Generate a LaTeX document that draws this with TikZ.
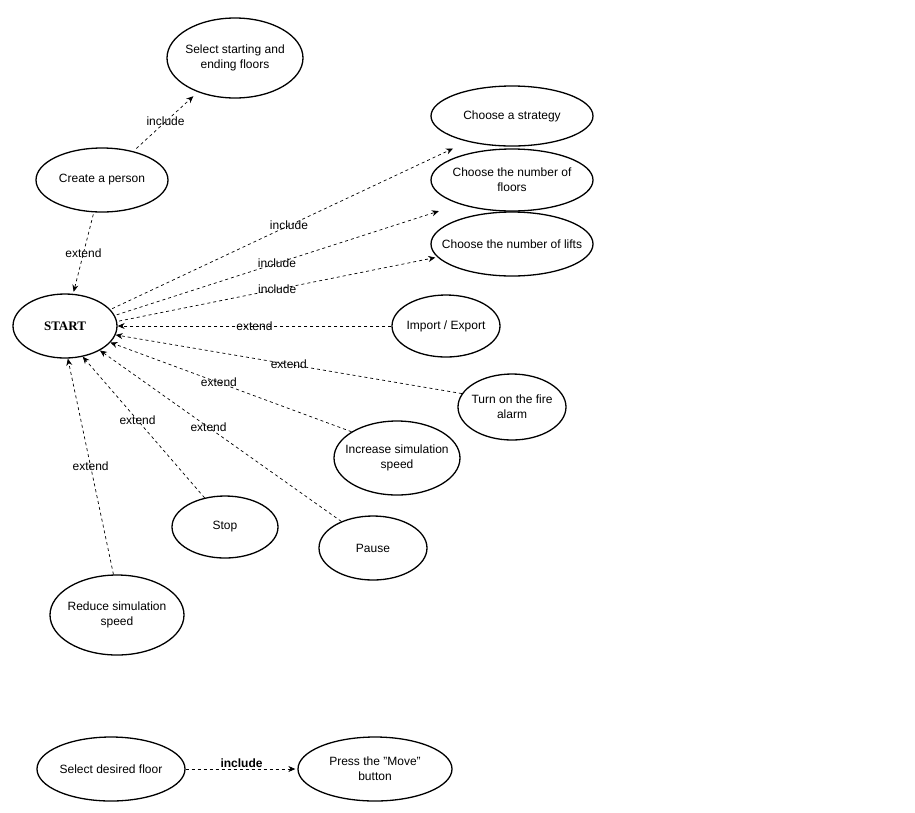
\documentclass[tikz,border=0pt]{standalone}
\usepackage{fontspec}
\setmainfont{Liberation Sans}
\usetikzlibrary{shapes.geometric,arrows.meta}
\begin{document}
\begin{tikzpicture}[x=1pt,y=-1pt,
  uc/.style={ellipse,draw,line width=1.3pt,minimum width=#1,align=center,font=\fontsize{12}{15}\selectfont,inner xsep=-25pt,inner ysep=-4pt},
  rel/.style={draw,dashed,-{Stealth[length=7pt,width=6pt]},line width=0.7pt},
  lab/.style={font=\fontsize{12}{14}\selectfont,inner sep=1pt}]
\useasboundingbox (0,0) rectangle (915,812);
\node[uc=136,minimum height=80] (sel) at (235,58) {Select starting and\\ending floors};
\node[uc=132,minimum height=64] (cp) at (102,180) {Create a person};
\node[uc=104,minimum height=64,font=\fontspec{Liberation Serif}\bfseries\fontsize{13}{15}\selectfont] (st) at (65,326) {START};
\node[uc=162,minimum height=60] (cs) at (512,116) {Choose a strategy};
\node[uc=162,minimum height=62] (cf) at (512,180) {Choose the number of\\floors};
\node[uc=162,minimum height=64] (cl) at (512,244) {Choose the number of lifts};
\node[uc=108,minimum height=62] (ie) at (446,326) {Import / Export};
\node[uc=108,minimum height=66] (fa) at (512,407) {Turn on the fire\\alarm};
\node[uc=126,minimum height=74] (is) at (397,458) {Increase simulation\\speed};
\node[uc=106,minimum height=62] (sp) at (225,527) {Stop};
\node[uc=108,minimum height=64] (pa) at (373,548) {Pause};
\node[uc=134,minimum height=80] (rs) at (117,615) {Reduce simulation\\speed};
\node[uc=148,minimum height=64] (sd) at (111,769) {Select desired floor};
\node[uc=154,minimum height=64] (pm) at (375,769) {Press the "Move"\\button};

\draw[rel,shorten <=4pt,shorten >=6pt] (cp) -- node[lab]{include} (sel);
\draw[rel,shorten <=2pt,shorten >=2pt] (cp) -- node[lab]{extend} (st);
\draw[rel,shorten <=2pt,shorten >=16pt] (st.20) -- node[lab,pos=0.5]{include} (cs.210);
\draw[rel,shorten <=2pt,shorten >=22pt] (st.12) -- node[lab,pos=0.47]{include} (cf.205);
\draw[rel,shorten <=2pt,shorten >=2pt] (st.5) -- node[lab,pos=0.5]{include} (cl.190);
\draw[rel] (ie) -- node[lab]{extend} (st);
\draw[rel] (fa.165) -- node[lab]{extend} (st.-10);
\draw[rel] (is.150) -- node[lab,pos=0.55]{extend} (st.-20);
\draw[rel] (pa.140) -- node[lab,pos=0.55]{extend} (st.-35);
\draw[rel] (sp.125) -- node[lab,pos=0.55]{extend} (st.-60);
\draw[rel] (rs.95) -- node[lab]{extend} (st.-85);
\draw[rel,shorten >=2pt] (sd) -- node[lab,above,font=\bfseries\fontsize{12}{14}\selectfont]{include} (pm);
\end{tikzpicture}
\end{document}
